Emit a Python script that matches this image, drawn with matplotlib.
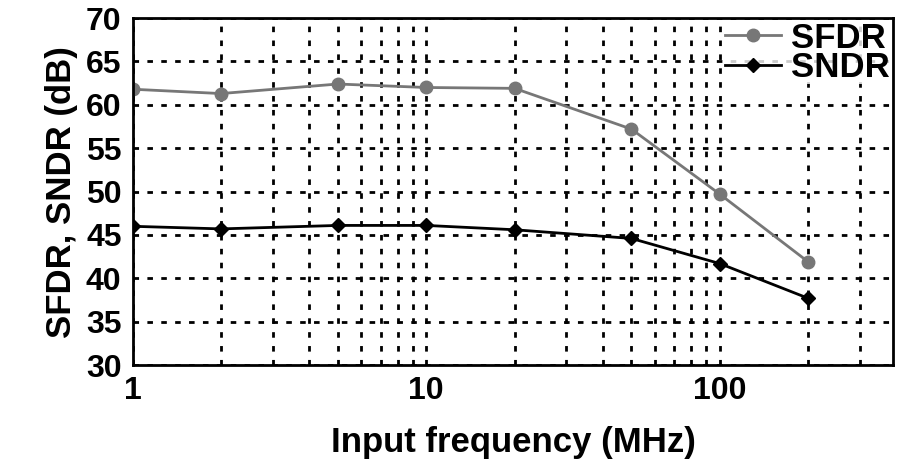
import matplotlib.pyplot as plt
from matplotlib.ticker import LogLocator, FixedLocator

plt.rcParams['font.family'] = 'Liberation Sans'
plt.rcParams['font.weight'] = 'bold'

freq = [1, 2, 5, 10, 20, 50, 100, 200]
sfdr = [61.8, 61.3, 62.4, 62.0, 61.9, 57.2, 49.7, 41.9]
sndr = [46.0, 45.7, 46.1, 46.1, 45.6, 44.6, 41.7, 37.7]

fig = plt.figure(figsize=(9.21, 4.76), dpi=100)
ax = fig.add_axes([0.144, 0.233, 0.826, 0.729])
ax.plot(freq, sfdr, color='#777777', marker='o', ms=9, lw=2, label='SFDR')
ax.plot(freq, sndr, color='black', marker='D', ms=7, lw=2, label='SNDR')
ax.set_xscale('log')
ax.set_xlim(1, 390)
ax.set_ylim(30, 70)
ax.yaxis.set_major_locator(FixedLocator(range(30, 71, 5)))
ax.xaxis.set_major_locator(FixedLocator([1, 10, 100]))
ax.xaxis.set_minor_locator(LogLocator(subs=range(2, 10), numticks=20))
ax.set_xticklabels(['1', '10', '100'])
ax.tick_params(which='both', length=0, labelsize=23, pad=8)
ax.grid(which='both', axis='x', color='black', ls=(0, (2, 3)), lw=2)
ax.grid(which='major', axis='y', color='black', ls=(0, (2, 3)), lw=2)
for s in ax.spines.values():
    s.set_linewidth(2)
ax.set_xlabel('Input frequency (MHz)', fontsize=25, fontweight='bold', labelpad=14)
ax.set_ylabel('SFDR, SNDR (dB)', fontsize=25, fontweight='bold', labelpad=6)
ax.legend(loc='upper right', frameon=True, edgecolor='none', fontsize=25,
          handlelength=1.6, handletextpad=0.3, labelspacing=-0.1,
          borderpad=0.0, borderaxespad=0.1)
fig.savefig('out.png')
